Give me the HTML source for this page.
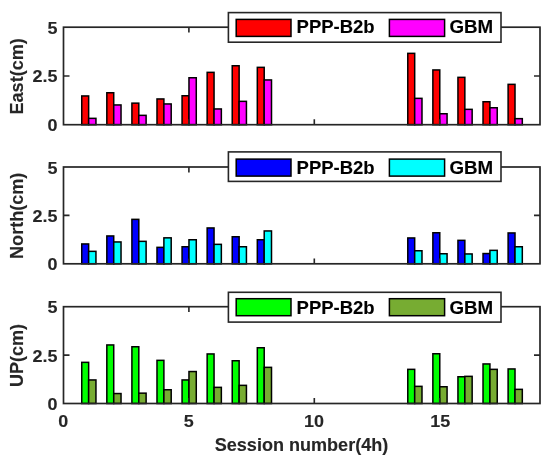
<!DOCTYPE html>
<html><head><meta charset="utf-8"><title>Session chart</title>
<style>
html,body{margin:0;padding:0;background:#fff;}
svg{display:block;}
text{font-family:"Liberation Sans",Arial,Helvetica,sans-serif;font-weight:bold;stroke-width:0.12px;}
.t,.l{stroke:#262626;}
.g{stroke:#000;}
.t{font-size:16.5px;fill:#262626;}
.l{font-size:18px;fill:#262626;}
.g{font-size:17.6px;fill:#000;}
</style></head><body>
<svg width="550" height="462" viewBox="0 0 550 462">
<defs><filter id="soft" x="0" y="0" width="550" height="462" filterUnits="userSpaceOnUse"><feGaussianBlur stdDeviation="0.4"/></filter></defs>
<rect width="550" height="462" fill="#fff"/>
<g filter="url(#soft)">
<rect x="81.75" y="95.95" width="6.90" height="28.75" fill="#ff0000" stroke="#000" stroke-width="1.5"/>
<rect x="88.65" y="118.35" width="7.30" height="6.35" fill="#ff00ff" stroke="#000" stroke-width="1.5"/>
<rect x="106.83" y="92.75" width="6.90" height="31.95" fill="#ff0000" stroke="#000" stroke-width="1.5"/>
<rect x="113.73" y="104.95" width="7.30" height="19.75" fill="#ff00ff" stroke="#000" stroke-width="1.5"/>
<rect x="131.91" y="103.15" width="6.90" height="21.55" fill="#ff0000" stroke="#000" stroke-width="1.5"/>
<rect x="138.81" y="115.35" width="7.30" height="9.35" fill="#ff00ff" stroke="#000" stroke-width="1.5"/>
<rect x="156.99" y="98.95" width="6.90" height="25.75" fill="#ff0000" stroke="#000" stroke-width="1.5"/>
<rect x="163.89" y="103.95" width="7.30" height="20.75" fill="#ff00ff" stroke="#000" stroke-width="1.5"/>
<rect x="182.07" y="95.75" width="6.90" height="28.95" fill="#ff0000" stroke="#000" stroke-width="1.5"/>
<rect x="188.97" y="77.75" width="7.30" height="46.95" fill="#ff00ff" stroke="#000" stroke-width="1.5"/>
<rect x="207.15" y="72.35" width="6.90" height="52.35" fill="#ff0000" stroke="#000" stroke-width="1.5"/>
<rect x="214.05" y="108.95" width="7.30" height="15.75" fill="#ff00ff" stroke="#000" stroke-width="1.5"/>
<rect x="232.23" y="65.75" width="6.90" height="58.95" fill="#ff0000" stroke="#000" stroke-width="1.5"/>
<rect x="239.13" y="101.35" width="7.30" height="23.35" fill="#ff00ff" stroke="#000" stroke-width="1.5"/>
<rect x="257.31" y="67.35" width="6.90" height="57.35" fill="#ff0000" stroke="#000" stroke-width="1.5"/>
<rect x="264.21" y="79.95" width="7.30" height="44.75" fill="#ff00ff" stroke="#000" stroke-width="1.5"/>
<rect x="407.79" y="53.35" width="6.90" height="71.35" fill="#ff0000" stroke="#000" stroke-width="1.5"/>
<rect x="414.69" y="98.35" width="7.30" height="26.35" fill="#ff00ff" stroke="#000" stroke-width="1.5"/>
<rect x="432.87" y="69.95" width="6.90" height="54.75" fill="#ff0000" stroke="#000" stroke-width="1.5"/>
<rect x="439.77" y="113.75" width="7.30" height="10.95" fill="#ff00ff" stroke="#000" stroke-width="1.5"/>
<rect x="457.95" y="77.35" width="6.90" height="47.35" fill="#ff0000" stroke="#000" stroke-width="1.5"/>
<rect x="464.85" y="109.35" width="7.30" height="15.35" fill="#ff00ff" stroke="#000" stroke-width="1.5"/>
<rect x="483.03" y="101.75" width="6.90" height="22.95" fill="#ff0000" stroke="#000" stroke-width="1.5"/>
<rect x="489.93" y="107.75" width="7.30" height="16.95" fill="#ff00ff" stroke="#000" stroke-width="1.5"/>
<rect x="508.11" y="84.35" width="6.90" height="40.35" fill="#ff0000" stroke="#000" stroke-width="1.5"/>
<rect x="515.01" y="118.65" width="7.30" height="6.05" fill="#ff00ff" stroke="#000" stroke-width="1.5"/>
<rect x="63.5" y="27.2" width="476.5" height="97.50" fill="none" stroke="#262626" stroke-width="1.7"/>
<path d="M188.90 124.7v-5.4M188.90 27.2v5.4M314.30 124.7v-5.4M314.30 27.2v5.4M439.70 124.7v-5.4M439.70 27.2v5.4M63.5 75.95h6M540.0 75.95h-6" stroke="#262626" stroke-width="1.6" fill="none"/>
<text class="t" transform="translate(57.40 33.70) scale(1.09 1)" text-anchor="end">5</text>
<text class="t" transform="translate(57.40 82.45) scale(1.09 1)" text-anchor="end">2.5</text>
<text class="t" transform="translate(57.40 131.20) scale(1.09 1)" text-anchor="end">0</text>
<text class="l" transform="translate(22.90 76.35) rotate(-90) scale(1.004 1)" text-anchor="middle">East(cm)</text>
<rect x="228.4" y="12.60" width="272.6" height="29.6" fill="#fff" stroke="#262626" stroke-width="1.6"/>
<rect x="236.2" y="19.40" width="54.8" height="17" fill="#ff0000" stroke="#000" stroke-width="1.5"/>
<rect x="389.4" y="19.40" width="55.2" height="17" fill="#ff00ff" stroke="#000" stroke-width="1.5"/>
<text class="g" transform="translate(296.60 33.30) scale(1.05 1)" text-anchor="start">PPP-B2b</text>
<text class="g" transform="translate(449.40 33.30) scale(1.065 1)" text-anchor="start">GBM</text>
<rect x="81.75" y="243.95" width="6.90" height="19.85" fill="#0000ff" stroke="#000" stroke-width="1.5"/>
<rect x="88.65" y="251.35" width="7.30" height="12.45" fill="#00ffff" stroke="#000" stroke-width="1.5"/>
<rect x="106.83" y="235.95" width="6.90" height="27.85" fill="#0000ff" stroke="#000" stroke-width="1.5"/>
<rect x="113.73" y="241.95" width="7.30" height="21.85" fill="#00ffff" stroke="#000" stroke-width="1.5"/>
<rect x="131.91" y="219.35" width="6.90" height="44.45" fill="#0000ff" stroke="#000" stroke-width="1.5"/>
<rect x="138.81" y="241.35" width="7.30" height="22.45" fill="#00ffff" stroke="#000" stroke-width="1.5"/>
<rect x="156.99" y="247.35" width="6.90" height="16.45" fill="#0000ff" stroke="#000" stroke-width="1.5"/>
<rect x="163.89" y="237.85" width="7.30" height="25.95" fill="#00ffff" stroke="#000" stroke-width="1.5"/>
<rect x="182.07" y="246.75" width="6.90" height="17.05" fill="#0000ff" stroke="#000" stroke-width="1.5"/>
<rect x="188.97" y="239.75" width="7.30" height="24.05" fill="#00ffff" stroke="#000" stroke-width="1.5"/>
<rect x="207.15" y="227.95" width="6.90" height="35.85" fill="#0000ff" stroke="#000" stroke-width="1.5"/>
<rect x="214.05" y="244.35" width="7.30" height="19.45" fill="#00ffff" stroke="#000" stroke-width="1.5"/>
<rect x="232.23" y="236.75" width="6.90" height="27.05" fill="#0000ff" stroke="#000" stroke-width="1.5"/>
<rect x="239.13" y="246.75" width="7.30" height="17.05" fill="#00ffff" stroke="#000" stroke-width="1.5"/>
<rect x="257.31" y="239.75" width="6.90" height="24.05" fill="#0000ff" stroke="#000" stroke-width="1.5"/>
<rect x="264.21" y="230.95" width="7.30" height="32.85" fill="#00ffff" stroke="#000" stroke-width="1.5"/>
<rect x="407.79" y="237.95" width="6.90" height="25.85" fill="#0000ff" stroke="#000" stroke-width="1.5"/>
<rect x="414.69" y="250.75" width="7.30" height="13.05" fill="#00ffff" stroke="#000" stroke-width="1.5"/>
<rect x="432.87" y="232.75" width="6.90" height="31.05" fill="#0000ff" stroke="#000" stroke-width="1.5"/>
<rect x="439.77" y="253.75" width="7.30" height="10.05" fill="#00ffff" stroke="#000" stroke-width="1.5"/>
<rect x="457.95" y="240.35" width="6.90" height="23.45" fill="#0000ff" stroke="#000" stroke-width="1.5"/>
<rect x="464.85" y="253.95" width="7.30" height="9.85" fill="#00ffff" stroke="#000" stroke-width="1.5"/>
<rect x="483.03" y="253.55" width="6.90" height="10.25" fill="#0000ff" stroke="#000" stroke-width="1.5"/>
<rect x="489.93" y="250.35" width="7.30" height="13.45" fill="#00ffff" stroke="#000" stroke-width="1.5"/>
<rect x="508.11" y="232.95" width="6.90" height="30.85" fill="#0000ff" stroke="#000" stroke-width="1.5"/>
<rect x="515.01" y="246.75" width="7.30" height="17.05" fill="#00ffff" stroke="#000" stroke-width="1.5"/>
<rect x="63.5" y="167.0" width="476.5" height="96.80" fill="none" stroke="#262626" stroke-width="1.7"/>
<path d="M188.90 263.8v-5.4M188.90 167.0v5.4M314.30 263.8v-5.4M314.30 167.0v5.4M439.70 263.8v-5.4M439.70 167.0v5.4M63.5 215.40h6M540.0 215.40h-6" stroke="#262626" stroke-width="1.6" fill="none"/>
<text class="t" transform="translate(57.40 173.50) scale(1.09 1)" text-anchor="end">5</text>
<text class="t" transform="translate(57.40 221.90) scale(1.09 1)" text-anchor="end">2.5</text>
<text class="t" transform="translate(57.40 270.30) scale(1.09 1)" text-anchor="end">0</text>
<text class="l" transform="translate(22.90 215.80) rotate(-90) scale(1.004 1)" text-anchor="middle">North(cm)</text>
<rect x="228.4" y="151.90" width="272.6" height="29.5" fill="#fff" stroke="#262626" stroke-width="1.6"/>
<rect x="236.2" y="159.10" width="54.8" height="17" fill="#0000ff" stroke="#000" stroke-width="1.5"/>
<rect x="389.4" y="159.10" width="55.2" height="17" fill="#00ffff" stroke="#000" stroke-width="1.5"/>
<text class="g" transform="translate(296.60 173.90) scale(1.05 1)" text-anchor="start">PPP-B2b</text>
<text class="g" transform="translate(449.40 173.90) scale(1.065 1)" text-anchor="start">GBM</text>
<rect x="81.75" y="362.35" width="6.90" height="41.15" fill="#00ff00" stroke="#000" stroke-width="1.5"/>
<rect x="88.65" y="379.95" width="7.30" height="23.55" fill="#77ac30" stroke="#000" stroke-width="1.5"/>
<rect x="106.83" y="344.95" width="6.90" height="58.55" fill="#00ff00" stroke="#000" stroke-width="1.5"/>
<rect x="113.73" y="393.55" width="7.30" height="9.95" fill="#77ac30" stroke="#000" stroke-width="1.5"/>
<rect x="131.91" y="346.75" width="6.90" height="56.75" fill="#00ff00" stroke="#000" stroke-width="1.5"/>
<rect x="138.81" y="393.15" width="7.30" height="10.35" fill="#77ac30" stroke="#000" stroke-width="1.5"/>
<rect x="156.99" y="360.35" width="6.90" height="43.15" fill="#00ff00" stroke="#000" stroke-width="1.5"/>
<rect x="163.89" y="389.75" width="7.30" height="13.75" fill="#77ac30" stroke="#000" stroke-width="1.5"/>
<rect x="182.07" y="379.95" width="6.90" height="23.55" fill="#00ff00" stroke="#000" stroke-width="1.5"/>
<rect x="188.97" y="371.55" width="7.30" height="31.95" fill="#77ac30" stroke="#000" stroke-width="1.5"/>
<rect x="207.15" y="353.95" width="6.90" height="49.55" fill="#00ff00" stroke="#000" stroke-width="1.5"/>
<rect x="214.05" y="387.35" width="7.30" height="16.15" fill="#77ac30" stroke="#000" stroke-width="1.5"/>
<rect x="232.23" y="360.75" width="6.90" height="42.75" fill="#00ff00" stroke="#000" stroke-width="1.5"/>
<rect x="239.13" y="385.35" width="7.30" height="18.15" fill="#77ac30" stroke="#000" stroke-width="1.5"/>
<rect x="257.31" y="347.75" width="6.90" height="55.75" fill="#00ff00" stroke="#000" stroke-width="1.5"/>
<rect x="264.21" y="367.35" width="7.30" height="36.15" fill="#77ac30" stroke="#000" stroke-width="1.5"/>
<rect x="407.79" y="369.35" width="6.90" height="34.15" fill="#00ff00" stroke="#000" stroke-width="1.5"/>
<rect x="414.69" y="386.35" width="7.30" height="17.15" fill="#77ac30" stroke="#000" stroke-width="1.5"/>
<rect x="432.87" y="353.75" width="6.90" height="49.75" fill="#00ff00" stroke="#000" stroke-width="1.5"/>
<rect x="439.77" y="386.75" width="7.30" height="16.75" fill="#77ac30" stroke="#000" stroke-width="1.5"/>
<rect x="457.95" y="376.75" width="6.90" height="26.75" fill="#00ff00" stroke="#000" stroke-width="1.5"/>
<rect x="464.85" y="376.35" width="7.30" height="27.15" fill="#77ac30" stroke="#000" stroke-width="1.5"/>
<rect x="483.03" y="363.95" width="6.90" height="39.55" fill="#00ff00" stroke="#000" stroke-width="1.5"/>
<rect x="489.93" y="369.35" width="7.30" height="34.15" fill="#77ac30" stroke="#000" stroke-width="1.5"/>
<rect x="508.11" y="368.95" width="6.90" height="34.55" fill="#00ff00" stroke="#000" stroke-width="1.5"/>
<rect x="515.01" y="389.35" width="7.30" height="14.15" fill="#77ac30" stroke="#000" stroke-width="1.5"/>
<rect x="63.5" y="306.7" width="476.5" height="96.80" fill="none" stroke="#262626" stroke-width="1.7"/>
<path d="M188.90 403.5v-5.4M188.90 306.7v5.4M314.30 403.5v-5.4M314.30 306.7v5.4M439.70 403.5v-5.4M439.70 306.7v5.4M63.5 355.10h6M540.0 355.10h-6" stroke="#262626" stroke-width="1.6" fill="none"/>
<text class="t" transform="translate(57.40 313.20) scale(1.09 1)" text-anchor="end">5</text>
<text class="t" transform="translate(57.40 361.60) scale(1.09 1)" text-anchor="end">2.5</text>
<text class="t" transform="translate(57.40 410.00) scale(1.09 1)" text-anchor="end">0</text>
<text class="l" transform="translate(22.90 355.50) rotate(-90) scale(1.004 1)" text-anchor="middle">UP(cm)</text>
<rect x="228.4" y="292.30" width="272.6" height="29.8" fill="#fff" stroke="#262626" stroke-width="1.6"/>
<rect x="236.2" y="298.70" width="54.8" height="17" fill="#00ff00" stroke="#000" stroke-width="1.5"/>
<rect x="389.4" y="298.70" width="55.2" height="17" fill="#77ac30" stroke="#000" stroke-width="1.5"/>
<text class="g" transform="translate(296.60 313.90) scale(1.05 1)" text-anchor="start">PPP-B2b</text>
<text class="g" transform="translate(449.40 313.90) scale(1.065 1)" text-anchor="start">GBM</text>
<text class="t" transform="translate(63.20 427.40) scale(1.09 1)" text-anchor="middle">0</text>
<text class="t" transform="translate(188.80 427.40) scale(1.09 1)" text-anchor="middle">5</text>
<text class="t" transform="translate(314.10 427.40) scale(1.09 1)" text-anchor="middle">10</text>
<text class="t" transform="translate(440.20 427.40) scale(1.09 1)" text-anchor="middle">15</text>
<text class="l" transform="translate(301.50 450.90) scale(1.004 1)" text-anchor="middle">Session number(4h)</text>
</g></svg></body></html>
